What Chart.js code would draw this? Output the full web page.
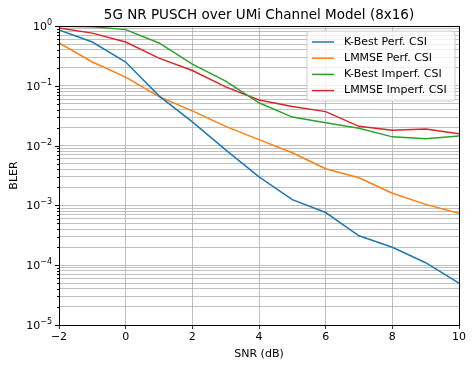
<!DOCTYPE html>
<html>
<head>
<meta charset="utf-8">
<script src="https://cdn.jsdelivr.net/npm/chart.js@4"></script>
<style>
body{margin:0;background:#fff}
</style>
</head>
<body>
<canvas id="chart" width="474" height="367"></canvas>
<script>
const snr = [-2, -1, 0, 1, 2, 3, 4, 5, 6, 7, 8, 9, 10];
const kbestPerf = [0.86, 0.54, 0.25, 0.068, 0.025, 0.0085, 0.003, 0.00125, 0.00076, 0.00031, 0.0002, 0.00011, 0.00005];
const lmmsePerf = [0.52, 0.25, 0.14, 0.066, 0.038, 0.021, 0.0126, 0.0076, 0.0041, 0.0029, 0.0016, 0.00104, 0.00074];
const kbestImperf = [0.99, 0.97, 0.87, 0.52, 0.23, 0.12, 0.052, 0.03, 0.024, 0.0195, 0.014, 0.013, 0.0145];
const lmmseImperf = [0.93, 0.76, 0.54, 0.29, 0.18, 0.096, 0.058, 0.045, 0.037, 0.021, 0.018, 0.019, 0.0158];
const seriesNames = ['K-Best Perf. CSI', 'LMMSE Perf. CSI', 'K-Best Imperf. CSI', 'LMMSE Imperf. CSI'];
const seriesColors = ['#1f77b4', '#ff7f0e', '#2ca02c', '#d62728'];
const xTicks = [-2, 0, 2, 4, 6, 8, 10];
const decades = [-5, -4, -3, -2, -1, 0];

const font = 'DejaVu Sans';

function isDecade(v) {
  let l = Math.log10(v);
  return Math.abs(l - Math.round(l)) < 1e-9;
}

let yTicks = [];
decades.forEach((e) => {
  for (let m = 1; m <= 9; m++) {
    if (e == 0 && m > 1) break;
    yTicks.push(m * Math.pow(10, e));
  }
});

const frame = {
  id: 'frame',
  afterDatasetsDraw(chart) {
    const c = chart.ctx, a = chart.chartArea;
    c.save();
    // legend box
    const w = 148, h = 70;
    const x0 = a.right - w - 4, y0 = a.top + 5;
    c.beginPath();
    c.roundRect(x0, y0, w, h, 3);
    c.fillStyle = 'rgba(255,255,255,0.8)';
    c.fill();
    c.strokeStyle = '#cccccc';
    c.lineWidth = 1;
    c.stroke();
    c.font = '11px "' + font + '"';
    c.textBaseline = 'middle';
    chart.data.datasets.forEach((ds, i) => {
      let y = y0 + 11 + i * 16.2;
      c.beginPath();
      c.moveTo(x0 + 5, y);
      c.lineTo(x0 + 27, y);
      c.strokeStyle = ds.borderColor;
      c.lineWidth = 1.5;
      c.stroke();
      c.fillStyle = '#000';
      c.fillText(ds.label, x0 + 37, y);
    });
    c.restore();
  },
  afterDraw(chart) {
    const c = chart.ctx, a = chart.chartArea;
    const ys = chart.scales.y;
    c.save();
    c.strokeStyle = '#000';
    c.lineWidth = 1;
    c.strokeRect(Math.round(a.left) + 0.5, Math.round(a.top) + 0.5, Math.round(a.right - a.left), Math.round(a.bottom - a.top));
    // y tick marks and 10^n labels
    c.fillStyle = '#000';
    c.textBaseline = 'middle';
    c.textAlign = 'right';
    yTicks.forEach((v) => {
      let y = Math.round(ys.getPixelForValue(v)) + 0.5;
      let len = isDecade(v) ? 4 : 2;
      c.beginPath();
      c.moveTo(a.left - len, y);
      c.lineTo(a.left, y);
      c.stroke();
      if (isDecade(v)) {
        let e = Math.round(Math.log10(v));
        let expText = e < 0 ? '\u2212' + Math.abs(e) : String(e);
        let xr = a.left - 7;
        c.font = '8px "' + font + '"';
        let ew = c.measureText(expText).width;
        c.fillText(expText, xr, y - 4);
        c.font = '11px "' + font + '"';
        c.fillText('10', xr - ew, y + 1);
      }
    });
    c.font = '13.5px "' + font + '"';
    c.textAlign = 'center';
    c.fillText('5G NR PUSCH over UMi Channel Model (8x16)', (a.left + a.right) / 2, 15);
    c.restore();
  }
};

const allSeries = [kbestPerf, lmmsePerf, kbestImperf, lmmseImperf];

new Chart(document.getElementById('chart'), {
  type: 'line',
  data: {
    datasets: allSeries.map((vals, i) => ({
      label: seriesNames[i],
      data: snr.map((x, j) => ({x: x, y: vals[j]})),
      borderColor: seriesColors[i],
      backgroundColor: seriesColors[i],
      borderWidth: 1.5,
      pointRadius: 0,
      tension: 0,
      fill: false
    }))
  },
  options: {
    responsive: false,
    animation: false,
    devicePixelRatio: 1,
    layout: {padding: {top: 26, right: 15, left: 0, bottom: 0}},
    plugins: {legend: {display: false}, tooltip: {enabled: false}, title: {display: false}},
    scales: {
      x: {
        type: 'linear',
        min: -2,
        max: 10,
        afterBuildTicks: (scale) => { scale.ticks = xTicks.map((v) => ({value: v})); },
        afterFit: (scale) => { scale.height = 42; },
        ticks: {
          color: '#000',
          font: {family: font, size: 11},
          padding: 2,
          maxRotation: 0,
          callback: (v) => v < 0 ? '\u2212' + Math.abs(v) : String(v)
        },
        grid: {color: '#b0b0b0', lineWidth: 0.8, tickColor: '#000', tickLength: 4},
        border: {color: '#000', width: 1},
        title: {display: true, text: 'SNR (dB)', color: '#000', font: {family: font, size: 11}, padding: {top: 0, bottom: 6}}
      },
      y: {
        type: 'logarithmic',
        min: 1e-5,
        max: 1,
        afterBuildTicks: (scale) => { scale.ticks = yTicks.map((v) => ({value: v, major: isDecade(v)})); },
        afterFit: (scale) => { scale.width = 59; },
        ticks: {display: false, autoSkip: false},
        grid: {color: '#b0b0b0', lineWidth: 0.8, drawTicks: false},
        border: {color: '#000', width: 1},
        title: {display: true, text: 'BLER', color: '#000', font: {family: font, size: 11}, padding: {top: 8, bottom: 0}}
      }
    }
  },
  plugins: [frame]
});
</script>
</body>
</html>
